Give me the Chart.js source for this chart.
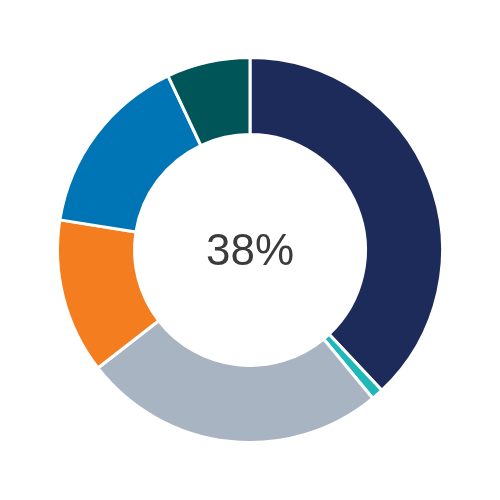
<!DOCTYPE html>
<html>
<head>
<meta charset="utf-8">
<script src="https://cdn.jsdelivr.net/npm/chart.js@4.4.1/dist/chart.umd.min.js"></script>
<style>
  html, body { margin: 0; padding: 0; background: #fff; }
  #wrap { position: relative; width: 500px; height: 500px; }
  #center { position: absolute; left: 0; top: 0; width: 500px; height: 500px;
            display: flex; align-items: center; justify-content: center;
            font-family: "Liberation Sans", Arial, sans-serif; font-size: 44px; color: #3b3b3b;
            pointer-events: none; }
</style>
</head>
<body>
<div id="wrap">
  <canvas id="donut" width="500" height="500"></canvas>
  <div id="center">38%</div>
</div>
<script>
// data
const labels = ['Segment A', 'Segment B', 'Segment C', 'Segment D', 'Segment E', 'Segment F'];
const values = [38, 1, 25.5, 13, 15.5, 7];
const colors = ['#1c2b5a', '#1fb8b8', '#a9b4c2', '#f47d20', '#0075b5', '#005558'];

new Chart(document.getElementById('donut'), {
    type: 'doughnut',
    data: {
        labels: labels,
        datasets: [{ data: values, backgroundColor: colors, borderColor: '#ffffff', borderWidth: 3 }]
    },
    options: {
        responsive: false,
        animation: false,
        cutout: '60%',
        layout: { padding: 56 },
        plugins: { legend: { display: false }, tooltip: { enabled: false } }
    }
});
</script>
</body>
</html>
